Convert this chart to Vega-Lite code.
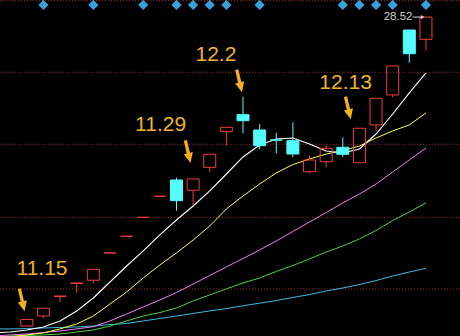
{
  "$schema": "https://vega.github.io/schema/vega-lite/v6.json",
  "width": 460,
  "height": 336,
  "padding": 0,
  "autosize": {"type": "none"},
  "background": "#000000",
  "config": {"view": {"stroke": null}},
  "datasets": {
    "grid": [{"p": 29.75}, {"p": 24.38}, {"p": 18.98}, {"p": 13.5}, {"p": 8.13}],
    "ma": [
      {"i": -1, "w": 4.83, "yl": 4.38, "mg": 4.6, "gr": 4.53, "cy": 5.13},
      {"i": 0, "w": 4.9, "yl": 4.53, "mg": 4.68, "gr": 4.6, "cy": 5.13},
      {"i": 1, "w": 5.05, "yl": 4.68, "mg": 4.75, "gr": 4.64, "cy": 5.16},
      {"i": 2, "w": 5.28, "yl": 4.83, "mg": 4.86, "gr": 4.68, "cy": 5.2},
      {"i": 3, "w": 5.73, "yl": 5.13, "mg": 4.98, "gr": 4.75, "cy": 5.24},
      {"i": 4, "w": 6.48, "yl": 5.5, "mg": 5.13, "gr": 4.9, "cy": 5.28},
      {"i": 5, "w": 7.45, "yl": 6.1, "mg": 5.3, "gr": 5.05, "cy": 5.35},
      {"i": 6, "w": 8.65, "yl": 7.0, "mg": 5.73, "gr": 5.35, "cy": 5.46},
      {"i": 7, "w": 9.85, "yl": 7.9, "mg": 6.25, "gr": 5.73, "cy": 5.54},
      {"i": 8, "w": 10.98, "yl": 8.95, "mg": 6.78, "gr": 6.1, "cy": 5.73},
      {"i": 9, "w": 12.18, "yl": 9.93, "mg": 7.3, "gr": 6.36, "cy": 5.91},
      {"i": 10, "w": 13.3, "yl": 10.83, "mg": 7.86, "gr": 6.7, "cy": 6.1},
      {"i": 11, "w": 14.35, "yl": 11.8, "mg": 8.5, "gr": 7.23, "cy": 6.29},
      {"i": 12, "w": 15.48, "yl": 12.85, "mg": 9.14, "gr": 7.68, "cy": 6.48},
      {"i": 13, "w": 16.75, "yl": 14.13, "mg": 9.78, "gr": 8.13, "cy": 6.66},
      {"i": 14, "w": 18.03, "yl": 15.1, "mg": 10.41, "gr": 8.58, "cy": 6.87},
      {"i": 15, "w": 18.93, "yl": 16.0, "mg": 11.05, "gr": 8.95, "cy": 7.06},
      {"i": 16, "w": 19.38, "yl": 16.83, "mg": 11.73, "gr": 9.44, "cy": 7.26},
      {"i": 17, "w": 19.45, "yl": 17.46, "mg": 12.44, "gr": 9.89, "cy": 7.49},
      {"i": 18, "w": 19.0, "yl": 17.88, "mg": 13.15, "gr": 10.38, "cy": 7.71},
      {"i": 19, "w": 18.48, "yl": 18.25, "mg": 13.86, "gr": 10.9, "cy": 7.98},
      {"i": 20, "w": 18.33, "yl": 18.51, "mg": 14.58, "gr": 11.35, "cy": 8.2},
      {"i": 21, "w": 18.63, "yl": 18.85, "mg": 15.25, "gr": 11.88, "cy": 8.46},
      {"i": 22, "w": 19.75, "yl": 19.45, "mg": 16.0, "gr": 12.51, "cy": 8.76},
      {"i": 23, "w": 21.25, "yl": 19.98, "mg": 16.9, "gr": 13.26, "cy": 9.1},
      {"i": 24, "w": 22.83, "yl": 20.43, "mg": 17.8, "gr": 13.9, "cy": 9.4},
      {"i": 25, "w": 24.33, "yl": 21.33, "mg": 18.7, "gr": 14.58, "cy": 9.68}
    ],
    "candles": [
      {"i": 1, "d": "up", "o": 5.35, "h": 5.84, "l": 5.35, "c": 5.84},
      {"i": 2, "d": "up", "o": 6.1, "h": 6.68, "l": 5.95, "c": 6.68},
      {"i": 3, "d": "up", "o": 7.56, "h": 7.6, "l": 7.15, "c": 7.6},
      {"i": 4, "d": "up", "o": 8.54, "h": 8.58, "l": 7.85, "c": 8.58},
      {"i": 5, "d": "up", "o": 8.78, "h": 9.6, "l": 8.58, "c": 9.6},
      {"i": 6, "d": "up", "o": 10.83, "h": 10.83, "l": 10.83, "c": 10.83},
      {"i": 7, "d": "up", "o": 12.08, "h": 12.08, "l": 12.08, "c": 12.08},
      {"i": 8, "d": "up", "o": 13.5, "h": 13.5, "l": 13.5, "c": 13.5},
      {"i": 9, "d": "up", "o": 15.08, "h": 15.08, "l": 15.08, "c": 15.08},
      {"i": 10, "d": "dn", "o": 16.3, "h": 16.47, "l": 14.0, "c": 14.75},
      {"i": 11, "d": "up", "o": 15.53, "h": 16.38, "l": 14.37, "c": 16.38},
      {"i": 12, "d": "up", "o": 17.25, "h": 18.23, "l": 16.88, "c": 18.23},
      {"i": 13, "d": "up", "o": 19.95, "h": 20.25, "l": 18.87, "c": 20.25},
      {"i": 14, "d": "dn", "o": 21.2, "h": 22.55, "l": 19.8, "c": 20.75},
      {"i": 15, "d": "dn", "o": 20.05, "h": 20.5, "l": 18.6, "c": 18.87},
      {"i": 16, "d": "dn", "o": 19.3, "h": 19.85, "l": 18.3, "c": 19.3},
      {"i": 17, "d": "dn", "o": 19.25, "h": 20.63, "l": 18.0, "c": 18.25},
      {"i": 18, "d": "up", "o": 16.92, "h": 18.1, "l": 16.8, "c": 17.8},
      {"i": 19, "d": "up", "o": 17.67, "h": 18.93, "l": 17.25, "c": 18.68},
      {"i": 20, "d": "dn", "o": 18.75, "h": 19.5, "l": 18.03, "c": 18.23},
      {"i": 21, "d": "up", "o": 17.6, "h": 20.18, "l": 17.6, "c": 20.18},
      {"i": 22, "d": "up", "o": 20.43, "h": 22.43, "l": 19.98, "c": 22.43},
      {"i": 23, "d": "up", "o": 22.68, "h": 24.85, "l": 22.5, "c": 24.85},
      {"i": 24, "d": "dn", "o": 27.55, "h": 27.55, "l": 25.1, "c": 25.77},
      {"i": 25, "d": "up", "o": 26.85, "h": 28.52, "l": 26.0, "c": 28.52}
    ],
    "flags": [{"i": 2}, {"i": 5}, {"i": 8}, {"i": 10}, {"i": 11}, {"i": 12}, {"i": 13}, {"i": 15}, {"i": 20}, {"i": 21}, {"i": 22}, {"i": 23}, {"i": 25}],
    "notes": [
      {"i": 0.38, "p": 9.18, "t": "11.15"},
      {"i": 7.51, "p": 19.98, "t": "11.29"},
      {"i": 11.14, "p": 25.23, "t": "12.2"},
      {"i": 18.59, "p": 23.1, "t": "12.13"}
    ],
    "arrows": [
      {"i": 0.71, "p": 7.3},
      {"i": 10.69, "p": 18.42},
      {"i": 13.78, "p": 23.73},
      {"i": 20.32, "p": 21.7}
    ],
    "maxlabel": [{"i": 24.19, "i2": 24.8, "p": 28.52, "t": "28.52"}]
  },
  "encoding": {
    "x": {"field": "i", "type": "quantitative", "scale": {"domain": [-0.312, 26.747], "nice": false, "zero": false}, "axis": null}
  },
  "layer": [
    {
      "data": {"name": "grid"},
      "mark": {"type": "rule", "color": "#a01c1c", "strokeDash": [1, 2], "strokeWidth": 1},
      "encoding": {
        "x": null,
        "y": {"field": "p", "type": "quantitative", "scale": {"domain": [4.6, 29.8], "nice": false, "zero": false}, "axis": null}
      }
    },
    {
      "data": {"name": "ma"},
      "mark": {"type": "line", "color": "#40b8e0", "strokeWidth": 1, "clip": true},
      "encoding": {"y": {"field": "cy", "type": "quantitative", "scale": {"domain": [4.6, 29.8], "nice": false, "zero": false}, "axis": null}}
    },
    {
      "data": {"name": "ma"},
      "mark": {"type": "line", "color": "#50d040", "strokeWidth": 1, "clip": true},
      "encoding": {"y": {"field": "gr", "type": "quantitative", "scale": {"domain": [4.6, 29.8], "nice": false, "zero": false}, "axis": null}}
    },
    {
      "data": {"name": "ma"},
      "mark": {"type": "line", "color": "#f080f0", "strokeWidth": 1, "clip": true},
      "encoding": {"y": {"field": "mg", "type": "quantitative", "scale": {"domain": [4.6, 29.8], "nice": false, "zero": false}, "axis": null}}
    },
    {
      "data": {"name": "ma"},
      "mark": {"type": "line", "color": "#ffff50", "strokeWidth": 1, "clip": true},
      "encoding": {"y": {"field": "yl", "type": "quantitative", "scale": {"domain": [4.6, 29.8], "nice": false, "zero": false}, "axis": null}}
    },
    {
      "data": {"name": "ma"},
      "mark": {"type": "line", "color": "#ffffff", "strokeWidth": 1.1, "clip": true},
      "encoding": {"y": {"field": "w", "type": "quantitative", "scale": {"domain": [4.6, 29.8], "nice": false, "zero": false}, "axis": null}}
    },
    {
      "data": {"name": "candles"},
      "transform": [{"filter": "datum.d == 'up'"}],
      "mark": {"type": "rule", "color": "#f03c3c", "strokeWidth": 1},
      "encoding": {
        "y": {"field": "h", "type": "quantitative", "scale": {"domain": [4.6, 29.8], "nice": false, "zero": false}, "axis": null},
        "y2": {"field": "c"}
      }
    },
    {
      "data": {"name": "candles"},
      "transform": [{"filter": "datum.d == 'up'"}],
      "mark": {"type": "rule", "color": "#f03c3c", "strokeWidth": 1},
      "encoding": {
        "y": {"field": "o", "type": "quantitative", "scale": {"domain": [4.6, 29.8], "nice": false, "zero": false}, "axis": null},
        "y2": {"field": "l"}
      }
    },
    {
      "data": {"name": "candles"},
      "transform": [{"filter": "datum.d == 'up'"}],
      "mark": {"type": "bar", "width": 12, "filled": false, "color": "#f03c3c", "strokeWidth": 1},
      "encoding": {
        "y": {"field": "o", "type": "quantitative", "scale": {"domain": [4.6, 29.8], "nice": false, "zero": false}, "axis": null},
        "y2": {"field": "c"}
      }
    },
    {
      "data": {"name": "candles"},
      "transform": [{"filter": "datum.d == 'dn'"}],
      "mark": {"type": "rule", "color": "#54fcfc", "strokeWidth": 1},
      "encoding": {
        "y": {"field": "h", "type": "quantitative", "scale": {"domain": [4.6, 29.8], "nice": false, "zero": false}, "axis": null},
        "y2": {"field": "l"}
      }
    },
    {
      "data": {"name": "candles"},
      "transform": [{"filter": "datum.d == 'dn'"}],
      "mark": {"type": "bar", "width": 12, "color": "#54fcfc", "stroke": "#54fcfc", "strokeWidth": 1},
      "encoding": {
        "y": {"field": "o", "type": "quantitative", "scale": {"domain": [4.6, 29.8], "nice": false, "zero": false}, "axis": null},
        "y2": {"field": "c"}
      }
    },
    {
      "data": {"name": "flags"},
      "mark": {"type": "point", "shape": "diamond", "filled": true, "size": 105, "color": "#38a0d8", "opacity": 1},
      "encoding": {
        "y": {"datum": 29.43, "type": "quantitative", "scale": {"domain": [4.6, 29.8], "nice": false, "zero": false}, "axis": null}
      }
    },
    {
      "data": {"name": "notes"},
      "mark": {"type": "text", "align": "left", "baseline": "alphabetic", "fontSize": 21, "font": "Liberation Sans", "color": "#f0b428"},
      "encoding": {
        "y": {"field": "p", "type": "quantitative", "scale": {"domain": [4.6, 29.8], "nice": false, "zero": false}, "axis": null},
        "text": {"field": "t"}
      }
    },
    {
      "data": {"name": "arrows"},
      "mark": {"type": "point", "shape": "arrow", "filled": true, "size": 540, "angle": 167, "color": "#f0b020", "opacity": 1},
      "encoding": {
        "y": {"field": "p", "type": "quantitative", "scale": {"domain": [4.6, 29.8], "nice": false, "zero": false}, "axis": null}
      }
    },
    {
      "data": {"name": "maxlabel"},
      "mark": {"type": "text", "align": "right", "baseline": "middle", "fontSize": 11.5, "font": "Liberation Sans", "color": "#d0d0d0"},
      "encoding": {
        "y": {"field": "p", "type": "quantitative", "scale": {"domain": [4.6, 29.8], "nice": false, "zero": false}, "axis": null},
        "text": {"field": "t"}
      }
    },
    {
      "data": {"name": "maxlabel"},
      "mark": {"type": "rule", "color": "#d0d0d0", "strokeWidth": 1},
      "encoding": {
        "x": {"field": "i", "type": "quantitative", "scale": {"domain": [-0.312, 26.747], "nice": false, "zero": false}, "axis": null},
        "x2": {"field": "i2"},
        "y": {"field": "p", "type": "quantitative", "scale": {"domain": [4.6, 29.8], "nice": false, "zero": false}, "axis": null}
      }
    },
    {
      "data": {"name": "maxlabel"},
      "mark": {"type": "point", "shape": "triangle-right", "filled": true, "size": 18, "color": "#d0d0d0", "opacity": 1},
      "encoding": {
        "x": {"field": "i2", "type": "quantitative", "scale": {"domain": [-0.312, 26.747], "nice": false, "zero": false}, "axis": null},
        "y": {"field": "p", "type": "quantitative", "scale": {"domain": [4.6, 29.8], "nice": false, "zero": false}, "axis": null}
      }
    }
  ]
}
